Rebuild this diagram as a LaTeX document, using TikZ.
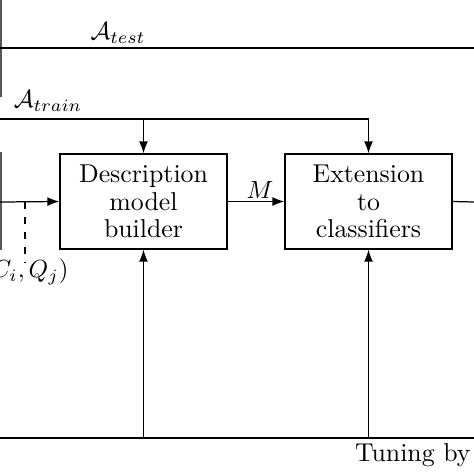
\documentclass[tikz,border=0pt]{standalone}
\usetikzlibrary{arrows.meta}
\begin{document}
\begin{tikzpicture}[x=0.403pt,y=-0.403pt,
  blockbox/.style={draw,line width=0.55pt,minimum width=67.3pt,minimum height=38.3pt,align=center,inner sep=0pt,font=\fontsize{10.4}{11}\selectfont},
  conn/.style={line width=0.5pt},
  arr/.style={conn,-{Latex[length=4.8pt,width=3.6pt]}},
  lbl/.style={inner sep=0pt,font=\fontsize{10.4}{12}\selectfont},
  edgebar/.style={gray!70!black,line width=1.2pt}]
\useasboundingbox (0,0) rectangle (474,474);
% cut-off boxes at the left edge
\draw[edgebar] (1,0) -- (1,97);
\draw[edgebar] (1,152) -- (1,250);
% blocks
\node[blockbox] (b1) at (143.5,201.5) {Description\\model\\builder};
\node[blockbox] (b2) at (368.5,201.5) {Extension\\to\\classifiers};
% coordinates
\coordinate (tl) at (0,48);
\coordinate (tr) at (474,48);
\coordinate (al) at (0,119);
\coordinate (ar) at (368.5,119);
\coordinate (am) at (143.5,119);
\coordinate (bl) at (0,438);
\coordinate (br) at (474,438);
\coordinate (bm1) at (143.5,438);
\coordinate (bm2) at (368.5,438);
\coordinate (inl) at (0,202);
\coordinate (dtop) at (25,202);
\coordinate (dbot) at (25,262);
\coordinate (outr) at (474,202);
% lines
\draw[conn] (tl) -- (tr);
\node[lbl] (atest) at (118,33) {$\mathcal{A}_{test}$};
\draw[conn] (al) -- (ar);
\node[lbl] (atrain) at (48,101) {$\mathcal{A}_{train}$};
\draw[arr] (ar) -- (b2.north);
\draw[arr] (am) -- (b1.north);
\draw[arr] (inl) -- (b1.west);
\draw[conn,dashed] (dtop) -- (dbot);
\node[lbl,anchor=east] (cq) at (69,272) {$(C_i,Q_j)$};
\draw[arr] (b1.east) -- (b2.west);
\node[lbl] (m) at (260,190) {$M$};
\draw[conn] (b2.east) -- (outr);
\draw[conn] (bl) -- (br);
\draw[arr] (bm1) -- (b1.south);
\draw[arr] (bm2) -- (b2.south);
\node[lbl,anchor=east] (tun) at (471,455) {Tuning by};
\end{tikzpicture}
\end{document}
